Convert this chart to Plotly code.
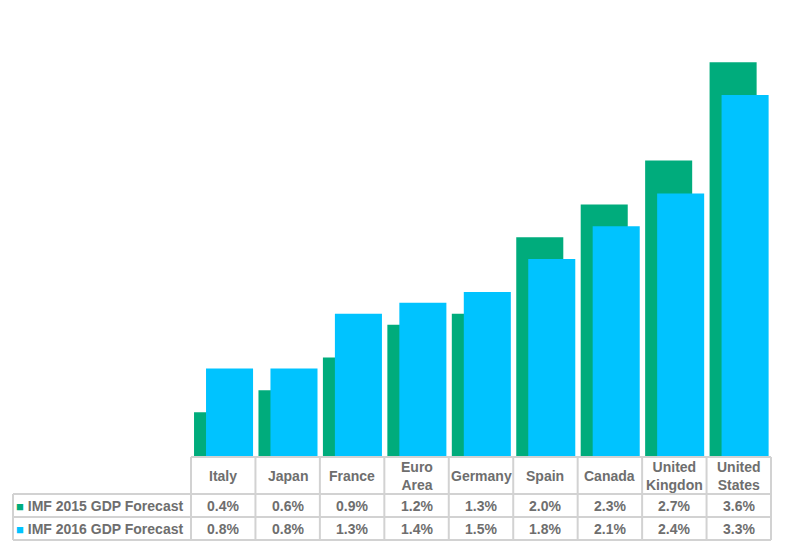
import plotly.graph_objects as go

countries = ["Italy", "Japan", "France", "Euro Area", "Germany", "Spain",
             "Canada", "United Kingdon", "United States"]
header_labels = ["Italy", "Japan", "France", "Euro<br>Area", "Germany", "Spain",
                 "Canada", "United<br>Kingdon", "United<br>States"]
series_names = ["IMF 2015 GDP Forecast", "IMF 2016 GDP Forecast"]
forecast_2015 = [0.4, 0.6, 0.9, 1.2, 1.3, 2.0, 2.3, 2.7, 3.6]
forecast_2016 = [0.8, 0.8, 1.3, 1.4, 1.5, 1.8, 2.1, 2.4, 3.3]

GREEN = "#00AC7C"
BLUE = "#00C3FF"
TEXT = "#6E6E6E"
LINE = "#D2D2D2"
FONT = "Liberation Sans, Arial, sans-serif"

OFF = 8  # page body margin
W, H = 793 - OFF, 560 - OFF
L, R, T, B = 191 - OFF, 22, 20 - OFF, 104
plot_w = W - L - R
plot_h = H - T - B
base_px = 456  # page pixel of baseline

def py(p):
    return (base_px - p) / plot_h

def px(p):
    return (p - 191) / plot_w

fig = go.Figure()
fig.add_trace(go.Bar(x=countries, y=forecast_2015, name=series_names[0],
                     marker=dict(color=GREEN, line=dict(width=0)),
                     offset=-0.453, width=0.73, hoverinfo="x+y"))
fig.add_trace(go.Bar(x=countries, y=forecast_2016, name=series_names[1],
                     marker=dict(color=BLUE, line=dict(width=0)),
                     offset=-0.267, width=0.73, hoverinfo="x+y"))

shapes = []
n = len(countries)
shapes.append(dict(type="line", xref="paper", yref="paper", x0=0, x1=1,
                   y0=py(457), y1=py(457), line=dict(color=LINE, width=2)))
for yy in [494, 517, 540]:
    shapes.append(dict(type="line", xref="paper", yref="paper", x0=px(13), x1=1,
                       y0=py(yy), y1=py(yy), line=dict(color=LINE, width=2)))
for i in range(n + 1):
    shapes.append(dict(type="line", xref="paper", yref="paper", x0=i / n, x1=i / n,
                       y0=py(457), y1=py(540), line=dict(color=LINE, width=2)))
shapes.append(dict(type="line", xref="paper", yref="paper", x0=px(13), x1=px(13),
                   y0=py(494), y1=py(540), line=dict(color=LINE, width=2)))

annotations = []
for c, h in zip(countries, header_labels):
    annotations.append(dict(x=c, xref="x", y=py(476), yref="paper", text=h,
                            showarrow=False, xanchor="center", yanchor="middle",
                            font=dict(family=FONT, size=14, color=TEXT)))
for c, v in zip(countries, forecast_2015):
    annotations.append(dict(x=c, xref="x", y=py(506), yref="paper", text=f"{v:.1f}%",
                            showarrow=False, xanchor="center", yanchor="middle",
                            font=dict(family=FONT, size=14, color=TEXT)))
for c, v in zip(countries, forecast_2016):
    annotations.append(dict(x=c, xref="x", y=py(529), yref="paper", text=f"{v:.1f}%",
                            showarrow=False, xanchor="center", yanchor="middle",
                            font=dict(family=FONT, size=14, color=TEXT)))
for name, col, yy in [(series_names[0], GREEN, 506), (series_names[1], BLUE, 529)]:
    annotations.append(dict(x=px(14), xref="paper", y=py(yy), yref="paper",
                            text=f'<span style="color:{col};font-size:13px">■</span> {name}',
                            showarrow=False, xanchor="left", yanchor="middle",
                            font=dict(family=FONT, size=14, color=TEXT)))

fig.update_layout(
    width=W, height=H,
    margin=dict(l=L, r=R, t=T, b=B, pad=0),
    barmode="overlay",
    showlegend=False,
    plot_bgcolor="white", paper_bgcolor="white",
    font=dict(family=FONT, color=TEXT),
    xaxis=dict(range=[-0.5, n - 0.5], showticklabels=False, showgrid=False,
               zeroline=False, showline=False, ticks=""),
    yaxis=dict(range=[0, plot_h / 109.4], showticklabels=False, showgrid=False,
               zeroline=False, showline=False, ticks=""),
    shapes=shapes,
    annotations=annotations,
)
fig.update_annotations(font_weight="bold")

fig.write_html("out.html")
